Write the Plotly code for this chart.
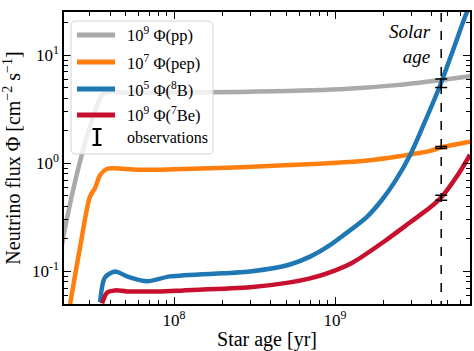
import math
import plotly.graph_objects as go

# ---------------- data ----------------
age_pp = [2.0e7, 2.1e7, 2.36e7, 2.8e7, 3.14e7, 3.57e7, 4.0e7, 5e7, 1e8, 2.6e8, 1.07e9, 2.5e9, 4.57e9, 7e9]
flux_pp = [0.17, 0.25, 0.57, 1.55, 2.69, 4.28, 4.56, 4.5, 4.5, 4.56, 4.83, 5.3, 5.89, 6.4]

age_pep = [2.26e7, 2.61e7, 3.0e7, 3.23e7, 3.47e7, 3.84e7, 4.3e7, 6e7, 1e8, 2.6e8, 8e8, 1.6e9, 2.5e9, 3.9e9, 4.57e9, 6.9e9]
flux_pep = [0.05, 0.17, 0.49, 0.59, 0.78, 0.89, 0.90, 0.87, 0.88, 0.92, 0.99, 1.06, 1.16, 1.30, 1.40, 1.58]

age_b8 = [3.47e7, 3.72e7, 4.3e7, 5.1e7, 6.8e7, 9.45e7, 2.97e8, 5.25e8, 7.0e8, 9.3e8, 1.12e9, 1.58e9,
          1.96e9, 2.36e9, 2.92e9, 3.52e9, 4.49e9, 5.56e9, 6.6e9, 7.2e9]
flux_b8 = [0.052, 0.088, 0.100, 0.090, 0.081, 0.090, 0.100, 0.116, 0.137, 0.175, 0.214, 0.32,
           0.46, 0.68, 1.18, 2.2, 5.2, 12.4, 24.9, 32.0]

age_be7 = [3.57e7, 3.84e7, 4.3e7, 5.1e7, 8.2e7, 1.14e8, 2.97e8, 5.25e8, 7.0e8, 9.3e8, 1.29e9, 2.1e9,
           2.92e9, 3.89e9, 4.55e9, 5.97e9, 6.9e9]
flux_be7 = [0.0507, 0.064, 0.0668, 0.0654, 0.0654, 0.0668, 0.0713, 0.0792, 0.0862, 0.098, 0.121, 0.197,
            0.283, 0.389, 0.48, 0.835, 1.20]

solar_age = 4.57e9
obs_flux = [5.5, 1.40, 0.48]
obs_err = [0.5, 0.03, 0.025]

series_names = ["10<sup>9</sup> Φ(pp)", "10<sup>7</sup> Φ(pep)", "10<sup>5</sup> Φ(<sup>8</sup>B)",
                "10<sup>9</sup> Φ(<sup>7</sup>Be)"]
series_colors = ["#aaaaaa", "#ff7f0e", "#1f77b4", "#c8102e"]

x_ticks = [1e8, 1e9]
x_ticktext = ["10<sup>8</sup>", "10<sup>9</sup>"]
y_ticks = [0.1, 1, 10]
y_ticktext = ["10<sup>-1</sup>", "10<sup>0</sup>", "10<sup>1</sup>"]
x_range = [2.07e7, 6.9e9]
y_range = [0.05, 25]

# ---------------- layout helpers ----------------
W, H = 474, 351
L, R, T, B = 64, 4, 12, 47
PW, PH = W - L - R, H - T - B


def px(x):
    return (x - L) / PW


def py(y):
    return (H - B - y) / PH


FONT = "Liberation Serif"

fig = go.Figure()
series = [(age_pp, flux_pp), (age_pep, flux_pep), (age_b8, flux_b8), (age_be7, flux_be7)]
for (xs, ys), name, col in zip(series, series_names, series_colors):
    fig.add_trace(go.Scatter(x=xs, y=ys, mode="lines", name=name,
                             line=dict(color=col, width=4.5, shape="spline", smoothing=0.8),
                             showlegend=False, hoverinfo="skip"))

# solar age vertical dashed line
fig.add_trace(go.Scatter(x=[solar_age, solar_age], y=[0.03, 40], mode="lines",
                         line=dict(color="black", width=1.5, dash="dash"),
                         showlegend=False, hoverinfo="skip"))

# observations
fig.add_trace(go.Scatter(x=[solar_age] * len(obs_flux), y=obs_flux, mode="markers",
                         marker=dict(size=1, color="black"),
                         error_y=dict(type="data", array=obs_err, color="black", thickness=1.5, width=6),
                         showlegend=False, hoverinfo="skip"))


def minor_vals(lo, hi):
    vals = []
    for e in range(int(math.floor(math.log10(lo))) - 1, int(math.ceil(math.log10(hi))) + 1):
        for m in range(2, 10):
            v = m * 10 ** e
            if lo <= v <= hi:
                vals.append(v)
    return vals


axis_common = dict(type="log", showline=True, linecolor="black", linewidth=1.5, mirror="ticks",
                   ticks="inside", ticklen=7, tickwidth=1.2, tickcolor="black", showgrid=False,
                   zeroline=False, tickfont=dict(family=FONT, size=17, color="black"))

fig.update_xaxes(range=[math.log10(x_range[0]), math.log10(x_range[1])], tickmode="array",
                 tickvals=x_ticks, ticktext=x_ticktext,
                 minor=dict(ticks="inside", ticklen=4, tickwidth=1, tickcolor="black", tickmode="array",
                            tickvals=minor_vals(*x_range), showgrid=False),
                 title=dict(text="Star age [yr]", font=dict(family=FONT, size=20, color="black"), standoff=4),
                 **axis_common)
fig.update_yaxes(range=[math.log10(y_range[0]), math.log10(y_range[1])], tickmode="array",
                 tickvals=y_ticks, ticktext=y_ticktext,
                 minor=dict(ticks="inside", ticklen=4, tickwidth=1, tickcolor="black", tickmode="array",
                            tickvals=minor_vals(*y_range), showgrid=False),
                 title=dict(text="Neutrino flux Φ [cm<sup>−2</sup> s<sup>−1</sup>]",
                            font=dict(family=FONT, size=20, color="black"), standoff=7),
                 **axis_common)

# ---------------- custom legend ----------------
shapes = []
annotations = []
lx0, lx1, ly0, ly1, rad = 71, 213, 21, 154, 5
path = (f"M {px(lx0 + rad)} {py(ly0)} L {px(lx1 - rad)} {py(ly0)} "
        f"Q {px(lx1)} {py(ly0)} {px(lx1)} {py(ly0 + rad)} L {px(lx1)} {py(ly1 - rad)} "
        f"Q {px(lx1)} {py(ly1)} {px(lx1 - rad)} {py(ly1)} L {px(lx0 + rad)} {py(ly1)} "
        f"Q {px(lx0)} {py(ly1)} {px(lx0)} {py(ly1 - rad)} L {px(lx0)} {py(ly0 + rad)} "
        f"Q {px(lx0)} {py(ly0)} {px(lx0 + rad)} {py(ly0)} Z")
shapes.append(dict(type="path", xref="paper", yref="paper", path=path, layer="above",
                   fillcolor="rgba(255,255,255,0.8)", line=dict(color="#d4d4d4", width=1)))
rows = [35, 62, 89, 115]
for yy, name, col in zip(rows, series_names, series_colors):
    shapes.append(dict(type="line", xref="paper", yref="paper", x0=px(77), x1=px(115), y0=py(yy), y1=py(yy),
                       line=dict(color=col, width=5), layer="above"))
    annotations.append(dict(xref="paper", yref="paper", x=px(125), y=py(yy), text=name, showarrow=False,
                            xanchor="left", yanchor="middle", font=dict(family=FONT, size=16.5, color="black")))
# error-bar glyph
oy = 137
shapes.append(dict(type="line", xref="paper", yref="paper", x0=px(97), x1=px(97), y0=py(oy - 8), y1=py(oy + 8),
                   line=dict(color="black", width=2.5), layer="above"))
for cy in (oy - 8, oy + 8):
    shapes.append(dict(type="line", xref="paper", yref="paper", x0=px(92.5), x1=px(101.5), y0=py(cy), y1=py(cy),
                       line=dict(color="black", width=2), layer="above"))
annotations.append(dict(xref="paper", yref="paper", x=px(125), y=py(oy), text="observations", showarrow=False,
                        xanchor="left", yanchor="middle", font=dict(family=FONT, size=16, color="black")))

# Solar age label
annotations.append(dict(xref="x", yref="paper", x=math.log10(solar_age), y=py(19), xshift=-8,
                        text="<i>Solar</i><br><i>age</i>", align="right", showarrow=False,
                        xanchor="right", yanchor="top", font=dict(family=FONT, size=19, color="black")))

fig.update_layout(width=W, height=H, margin=dict(l=L, r=R, t=T, b=B, autoexpand=False),
                  paper_bgcolor="white", plot_bgcolor="white", showlegend=False,
                  shapes=shapes, annotations=annotations)

fig.write_html("out.html")
